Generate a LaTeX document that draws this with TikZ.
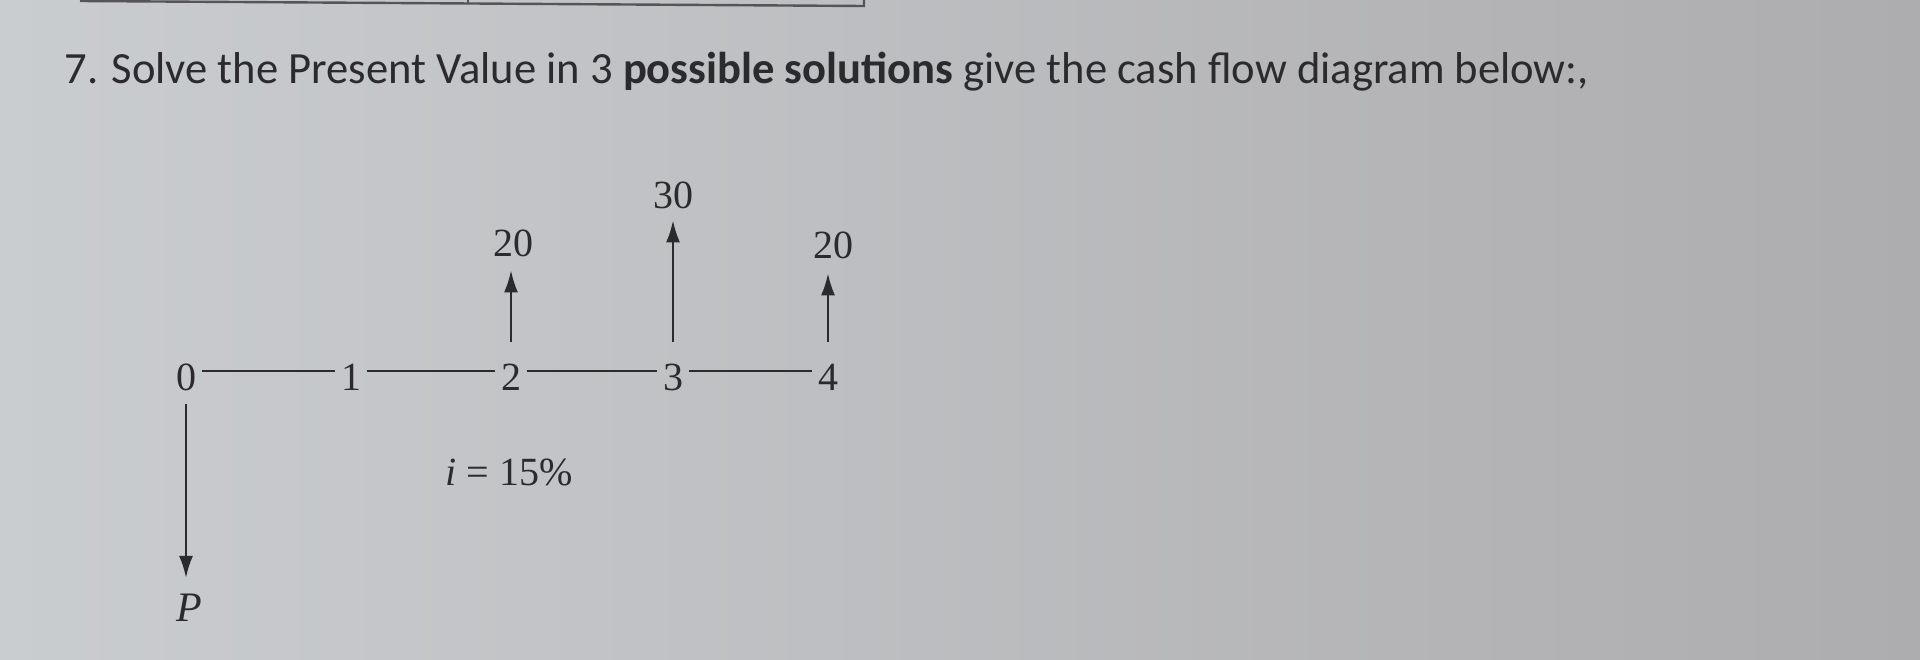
\documentclass[tikz,border=0pt]{standalone}
\usepackage{fontspec}
\setmainfont{Liberation Serif}
\newfontfamily\titlefont{Carlito}
\usetikzlibrary{arrows.meta}
\definecolor{ink}{HTML}{2B2B2D}
\definecolor{bgL}{HTML}{CACDD0}
\definecolor{bgM}{HTML}{C2C4C8}
\definecolor{bgR}{HTML}{ADACAE}
\tikzset{
  tick/.style={inner sep=0pt, text=ink, font=\fontsize{20}{24}\selectfont},
  amount/.style={inner sep=0pt, text=ink, font=\fontsize{20}{24}\selectfont},
  axisline/.style={draw=ink, line width=0.9pt},
  cash/.style={draw=ink, line width=1.1pt, -{Latex[length=11pt,width=7pt]}},
}
\begin{document}
\begin{tikzpicture}[x=0.5pt,y=-0.5pt]
\useasboundingbox (0,0) rectangle (1920,659);
\shade[left color=bgL, middle color=bgM, right color=bgR] (0,0) rectangle (1920,659);
% table edge at top
\draw[ink!80, line width=1.2pt] (80,1) -- (864,6) -- (864,-2);
\draw[ink!80, line width=0.8pt] (468,4) -- (468,-2);
% title
\node[anchor=base west, inner sep=0pt, text=ink, font=\titlefont\fontsize{22.3}{26}\selectfont] (title) at (64,83)
  {7. Solve the Present Value in 3 \textbf{possible solutions} give the cash flow diagram below:,};
% axis ticks
\node[tick] (n0) at (186,377) {0};
\node[tick] (n1) at (351,377) {1};
\node[tick] (n2) at (511,377) {2};
\node[tick] (n3) at (673,377) {3};
\node[tick] (n4) at (828,377) {4};
\draw[axisline] ([xshift=3pt,yshift=3pt]n0.east) -- ([xshift=-3pt,yshift=3pt]n1.west);
\draw[axisline] ([xshift=3pt,yshift=3pt]n1.east) -- ([xshift=-3pt,yshift=3pt]n2.west);
\draw[axisline] ([xshift=3pt,yshift=3pt]n2.east) -- ([xshift=-3pt,yshift=3pt]n3.west);
\draw[axisline] ([xshift=3pt,yshift=3pt]n3.east) -- ([xshift=-3pt,yshift=3pt]n4.west);
% amounts
\node[amount] (a2) at (513,243) {20};
\node[amount] (a3) at (673,195) {30};
\node[amount] (a4) at (833,245) {20};
\node[inner sep=0pt, text=ink, font=\fontsize{21}{24}\selectfont\itshape] (p) at (189,608) {P};
\node[inner sep=0pt, text=ink, font=\fontsize{20}{24}\selectfont] (rate) at (509,472) {\textit{i} = 15\%};
% cash flow arrows
\draw[cash, shorten <=10.5pt, shorten >=6.75pt] (n2.north) -- (n2.north |- a2.south);
\draw[cash, shorten <=10.5pt, shorten >=5.75pt] (n3.north) -- (n3.north |- a3.south);
\draw[cash, shorten <=10.5pt, shorten >=7.25pt] (n4.north) -- (n4.north |- a4.south);
\draw[cash, shorten <=6.5pt, shorten >=8pt] (n0.south) -- (n0.south |- p.north);
\end{tikzpicture}
\end{document}
